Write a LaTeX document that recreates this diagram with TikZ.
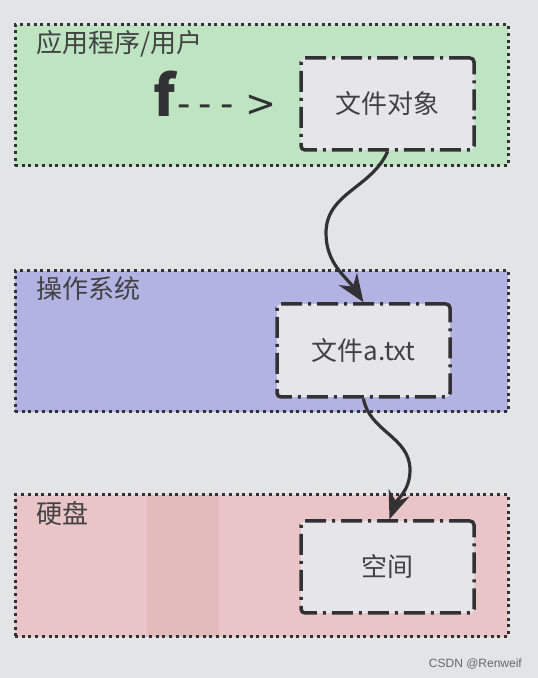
\documentclass[tikz,border=0pt]{standalone}
\usepackage{fontspec}
\setmainfont{Noto Sans CJK SC}
\newfontfamily\wmfont{Liberation Sans}
\newfontfamily\djfont{DejaVu Sans}
\usetikzlibrary{arrows.meta}
\definecolor{bg}{RGB}{227,228,230}
\definecolor{lgreen}{RGB}{190,228,194}
\definecolor{lpurple}{RGB}{178,179,226}
\definecolor{lred}{RGB}{233,197,199}
\definecolor{redband}{RGB}{226,187,189}
\definecolor{innerfill}{RGB}{230,230,234}
\definecolor{ink}{RGB}{50,50,52}
\definecolor{txt}{RGB}{66,66,68}
\tikzset{
  layer/.style={draw=ink, line width=3pt, dash pattern=on 3pt off 3.7pt, minimum width=493pt, inner sep=0pt},
  innerbox/.style={draw=ink, fill=innerfill, line width=3.5pt, rounded corners=4pt,
     dash pattern=on 21pt off 6pt on 3pt off 6pt, minimum width=173pt, minimum height=92pt,
     font=\fontsize{26}{30}\selectfont, text=txt},
  lbl/.style={anchor=west, font=\fontsize{26}{30}\selectfont, text=txt, inner sep=0pt},
  conn/.style={draw=ink, line width=3.2pt, -{Stealth[length=28pt,width=22pt]}}
}
\begin{document}
\begin{tikzpicture}[x=1pt,y=1pt]
\useasboundingbox (0,0) rectangle (538,678);
\fill[bg] (0,0) rectangle (538,678);
% layers
\node[layer, fill=lgreen, minimum height=141pt] (app) at (261.5,582.5) {};
\node[layer, fill=lpurple, minimum height=141pt] (os) at (261.5,336.5) {};
\fill[lred] (15,41) rectangle (508,183);
\fill[redband] (147,41) rectangle (219,183);
\node[layer, minimum height=142pt] (disk) at (261.5,112) {};
% labels
\node[lbl] (l1) at (36,634) {应用程序/用户};
\node[lbl] (l2) at (36,389) {操作系统};
\node[lbl] (l3) at (36,164.5) {硬盘};
% inner boxes
\node[innerbox] (obj) at (387.5,574) {文件对象};
\node[innerbox, minimum height=93pt] (file) at (363.5,327.5) {文件a.txt};
\node[innerbox] (space) at (387.5,111) {空间};
% f--->
\node[anchor=base west, inner sep=0pt, text=ink] (f) at (153,561)
  {{\fontsize{56}{60}\selectfont\bfseries f}\hspace{2pt}{\djfont\fontsize{37}{40}\selectfont -\hspace{8pt}-\hspace{8pt}-\hspace{12pt}>}};
% connectors
\coordinate (w1) at (326,445);
\coordinate (w2) at (410,208);
\draw[conn] (obj.south) to[out=-114,in=90] (w1) to[out=-90,in=124] (file.north);
\draw[conn] (file.south) to[out=-80,in=90] (w2) to[out=-90,in=70] ([xshift=2pt]space.north);
% watermark
\node[anchor=east, inner sep=0pt, text=gray!80!black, font=\wmfont\fontsize{12}{14}\selectfont] (wm) at (522,14.5) {CSDN @Renweif};
\end{tikzpicture}
\end{document}
